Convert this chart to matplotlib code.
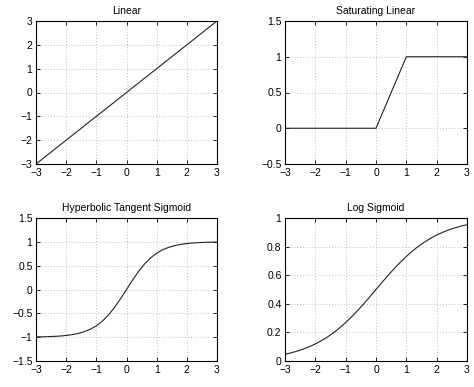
import matplotlib.pyplot as plt
from matplotlib.ticker import FuncFormatter

plt.rcParams['font.family'] = ['Liberation Sans', 'DejaVu Sans']

# values
x_lin = [-3, 3]
y_lin = [-3, 3]

x_sat = [-3, 0, 1, 3]
y_sat = [0, 0, 1, 1]

x_s = [-3.0, -2.8, -2.6, -2.4, -2.2, -2.0, -1.8, -1.6, -1.4, -1.2, -1.0,
       -0.8, -0.6, -0.4, -0.2, 0.0, 0.2, 0.4, 0.6, 0.8, 1.0, 1.2, 1.4,
       1.6, 1.8, 2.0, 2.2, 2.4, 2.6, 2.8, 3.0]
y_tanh = [-0.995, -0.993, -0.989, -0.984, -0.976, -0.964, -0.947, -0.922,
          -0.885, -0.834, -0.762, -0.664, -0.537, -0.380, -0.197, 0.0,
          0.197, 0.380, 0.537, 0.664, 0.762, 0.834, 0.885, 0.922, 0.947,
          0.964, 0.976, 0.984, 0.989, 0.993, 0.995]
y_log = [0.047, 0.057, 0.069, 0.083, 0.100, 0.119, 0.142, 0.168, 0.198,
         0.231, 0.269, 0.310, 0.354, 0.401, 0.450, 0.500, 0.550, 0.599,
         0.646, 0.690, 0.731, 0.769, 0.802, 0.832, 0.858, 0.881, 0.900,
         0.917, 0.931, 0.943, 0.953]

xticks = [-3, -2, -1, 0, 1, 2, 3]
titles = ['Linear', 'Saturating Linear', 'Hyperbolic Tangent Sigmoid', 'Log Sigmoid']
ylims = [(-3, 3), (-0.5, 1.5), (-1.5, 1.5), (0, 1)]
yticks = [[-3, -2, -1, 0, 1, 2, 3],
          [-0.5, 0, 0.5, 1, 1.5],
          [-1.5, -1, -0.5, 0, 0.5, 1, 1.5],
          [0, 0.2, 0.4, 0.6, 0.8, 1]]
xs = [x_lin, x_sat, x_s, x_s]
ys = [y_lin, y_sat, y_tanh, y_log]

fig = plt.figure(figsize=(4.74, 3.87), dpi=100)
# axes boxes in pixels (left, top, right, bottom)
boxes = [(36, 21, 217, 164), (285, 21, 467, 164),
         (36, 218, 217, 361), (285, 218, 467, 361)]

fmt = FuncFormatter(lambda v, p: ('%g' % v).replace('-', '\u2212'))

for i in range(4):
    l, t, r, b = boxes[i]
    ax = fig.add_axes([l / 474, 1 - b / 387, (r - l) / 474, (b - t) / 387])
    ax.plot(xs[i], ys[i], color='#222222', linewidth=0.8)
    ax.set_xlim(-3, 3)
    ax.set_ylim(*ylims[i])
    ax.set_xticks(xticks)
    ax.set_yticks(yticks[i])
    ax.xaxis.set_major_formatter(fmt)
    ax.yaxis.set_major_formatter(fmt)
    ax.grid(True, linestyle=(0, (1, 2.5)), color='#aaaaaa', linewidth=0.6)
    ax.tick_params(direction='in', length=3, width=0.6, labelsize=7.5,
                   top=True, right=True)
    ax.tick_params(axis='x', pad=3)
    ax.tick_params(axis='y', pad=2.5)
    for s in ax.spines.values():
        s.set_linewidth(0.8)
    ax.set_title(titles[i], fontsize=7.5, pad=5)

fig.savefig('out.png', dpi=100)
